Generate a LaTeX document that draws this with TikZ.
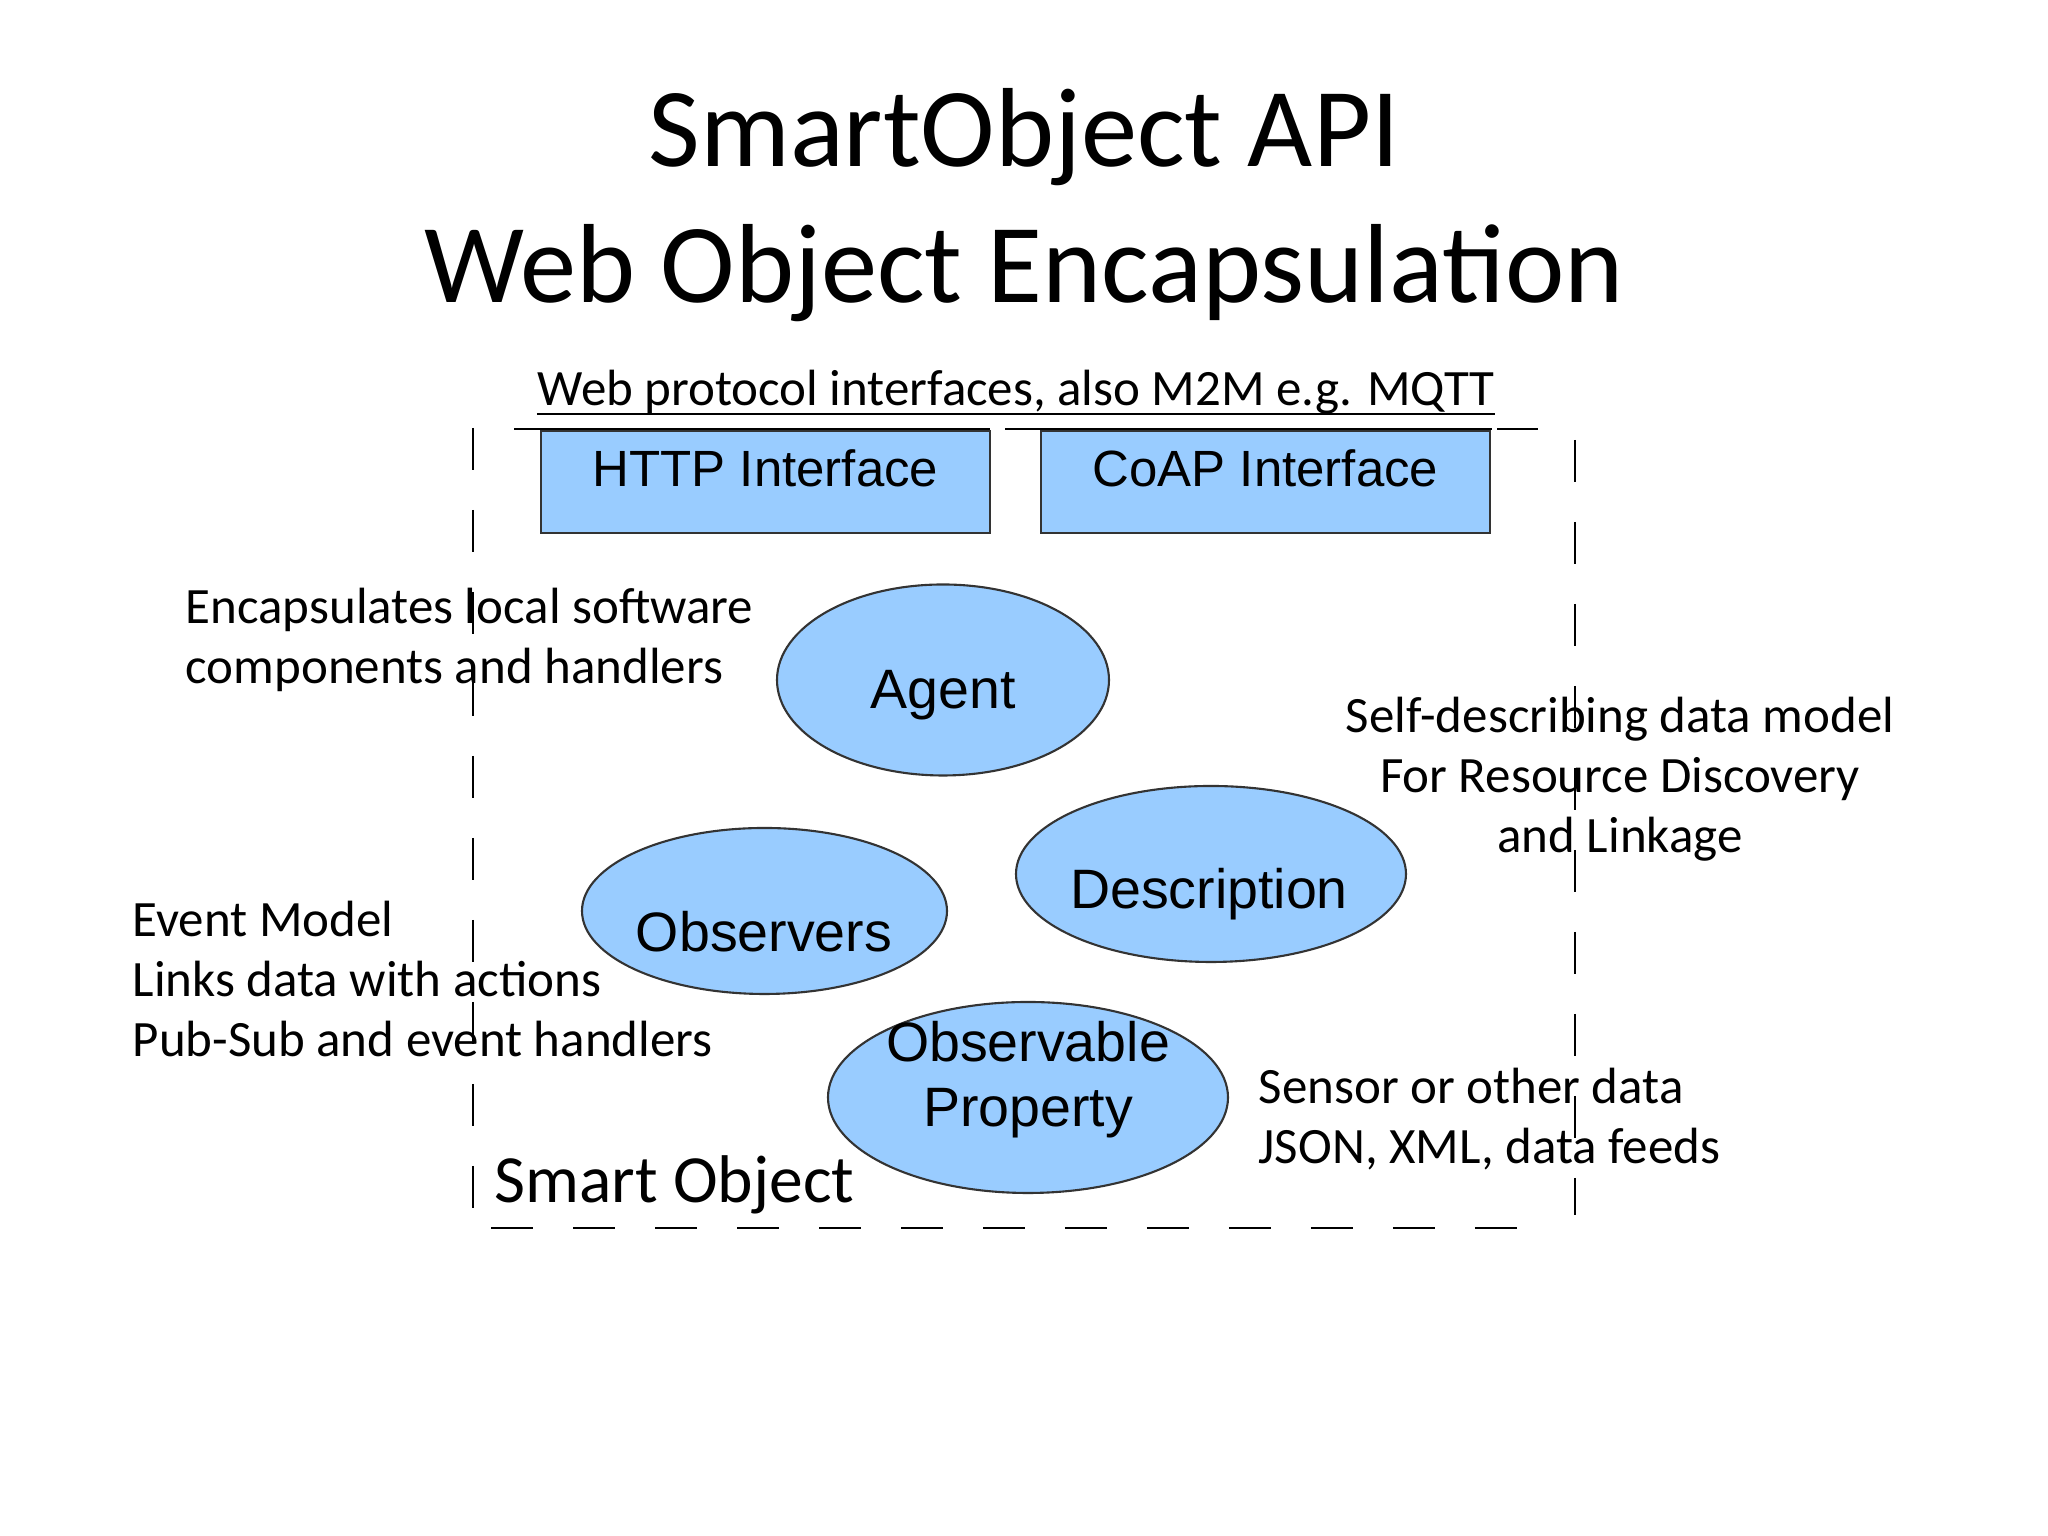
\documentclass[tikz,border=0pt]{standalone}
\usepackage{fontspec}
\setmainfont{Carlito}
\newfontfamily\arialfont{Liberation Sans}
\definecolor{shapeblue}{HTML}{99CCFF}
\newcommand{\titlefont}{\fontsize{32}{38.4}\selectfont}
\newcommand{\bodyfont}{\fontsize{14.5}{17.1}\selectfont}
\newcommand{\boxfont}{\arialfont\fontsize{14.5}{17}\selectfont}
\newcommand{\blobfont}{\arialfont\fontsize{15.8}{18.5}\selectfont}

\begin{document}
\begin{tikzpicture}
	\useasboundingbox (0,0) rectangle (20.48,15.36);
	\fill[white] (0,0) rectangle (20.48,15.36);
	%title lines
	\node[anchor=base, font=\titlefont] (title1) at (10.24,13.69) {SmartObject API};
	\node[anchor=base, font=\titlefont] (title2) at (10.24,12.33) {Web Object Encapsulation};
	\node[anchor=base, inner sep=0, font=\bodyfont] (proto) at (10.16,11.30) {Web protocol interfaces, also M2M e.g. MQTT};
	\draw[line width=0.6pt] ([yshift=-0.08cm]proto.base west) -- ([yshift=-0.08cm]proto.base east);

	%smart object frame, top edge in long pieces
	\begin{scope}[line width=0.6pt]
		\draw (5.14,11.07) -- (9.90,11.07);
		\draw (10.05,11.07) -- (14.92,11.07);
		\draw (14.97,11.07) -- (15.38,11.07);
		\draw[dash pattern=on 0.42cm off 0.40cm] (4.73,11.08) -- (4.73,3.20);
		\draw[dash pattern=on 0.42cm off 0.40cm] (15.75,10.96) -- (15.75,3.21);
		\draw[dash pattern=on 0.42cm off 0.40cm] (4.91,3.08) -- (15.54,3.08);
	\end{scope}
	\node[anchor=base west, inner sep=0, font=\fontsize{19.2}{23}\selectfont] (smart) at (4.94,3.33) {Smart Object};

	%interface boxes
	\filldraw[fill=shapeblue, draw=black!80, line width=0.6pt] (5.41,11.05) rectangle (9.90,10.03);
	\node[anchor=base, font=\boxfont] (http) at (7.655,10.49) {HTTP Interface};
	\filldraw[fill=shapeblue, draw=black!80, line width=0.6pt] (10.41,11.05) rectangle (14.90,10.03);
	\node[anchor=base, font=\boxfont] (coap) at (12.655,10.49) {CoAP Interface};

	%component ellipses (base of a two line node is its last line)
	\filldraw[fill=shapeblue, draw=black!80, line width=0.6pt] (9.43,8.56) ellipse (1.66 and 0.955);
	\node[anchor=base, font=\blobfont] (agent) at (9.43,8.27) {Agent};
	\filldraw[fill=shapeblue, draw=black!80, line width=0.6pt] (12.11,6.62) ellipse (1.95 and 0.88);
	\node[anchor=base, font=\blobfont] (descr) at (12.09,6.27) {Description};
	\filldraw[fill=shapeblue, draw=black!80, line width=0.6pt] (7.645,6.25) ellipse (1.825 and 0.83);
	\node[anchor=base, font=\blobfont] (observers) at (7.64,5.84) {Observers};
	\filldraw[fill=shapeblue, draw=black!80, line width=0.6pt] (10.28,4.385) ellipse (2.0 and 0.955);
	\node[anchor=base, align=center, font=\blobfont] (obsprop) at (10.28,4.09) {Observable\\Property};

	%side notes
	\node[anchor=base west, align=left, inner sep=0, font=\bodyfont] (encaps) at (1.85,8.52) {Encapsulates local software\\components and handlers};
	\node[anchor=base, align=center, inner sep=0, font=\bodyfont] (selfdesc) at (16.20,6.83) {Self-describing data model\\For Resource Discovery\\and Linkage};
	\node[anchor=base west, align=left, inner sep=0, font=\bodyfont] (events) at (1.32,4.79) {Event Model\\Links data with actions\\Pub-Sub and event handlers};
	\node[anchor=base west, align=left, inner sep=0, font=\bodyfont] (sensor) at (12.58,3.72) {Sensor or other data\\JSON, XML, data feeds};
\end{tikzpicture}
\end{document}
